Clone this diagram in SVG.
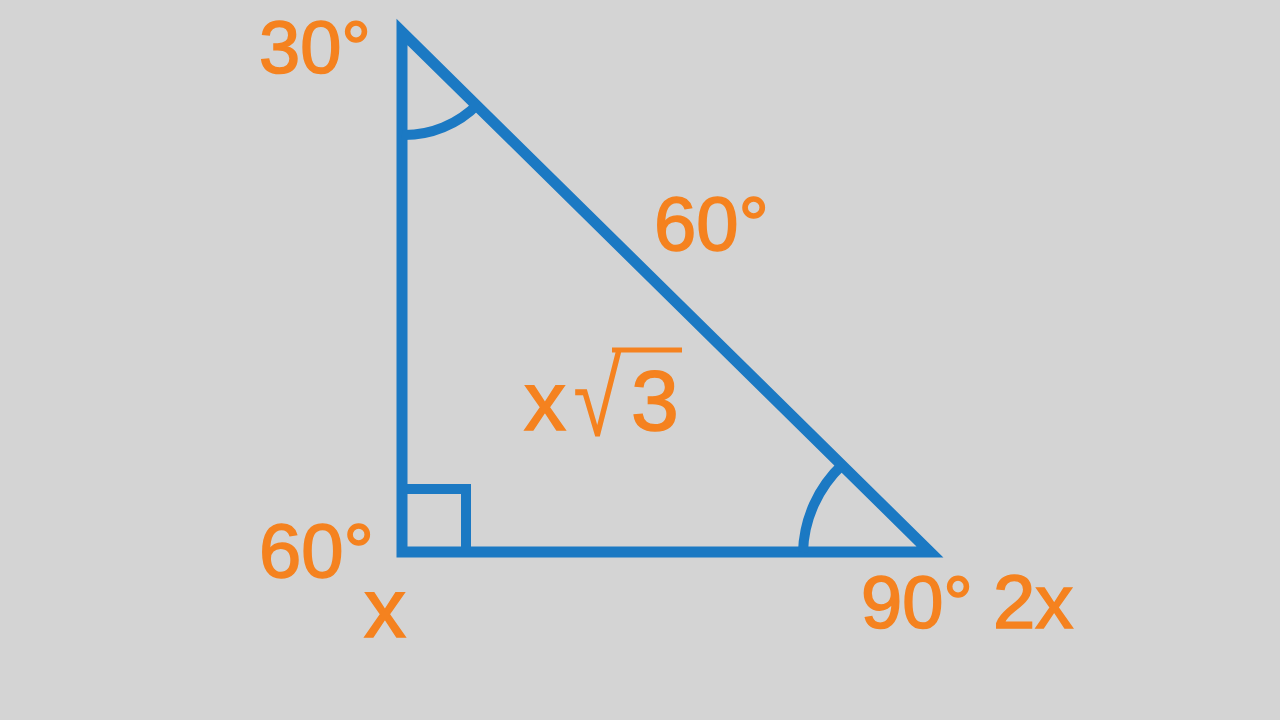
<svg xmlns="http://www.w3.org/2000/svg" width="1280" height="720" viewBox="0 0 1280 720">
<style>
.edge{fill:none;stroke:#1b79c3;stroke-width:11;stroke-linejoin:miter}
.mark{fill:none;stroke:#1b79c3;stroke-width:10}
.lbl{font-family:"Liberation Sans",Arial,sans-serif;fill:#f5821f;stroke:#f5821f;stroke-width:1.6}
</style>
<rect width="1280" height="720" fill="#d4d4d4"/>
<g id="connectors">
<path class="edge" d="M402,32 L402,552 L930,552 Z"/>
</g>
<g id="angle-top">
<path class="mark" d="M402,135 A103,103 0 0 0 478,104"/>
<text class="lbl" x="259" y="73" font-size="74">30°</text>
</g>
<g id="angle-bottom-left">
<path class="mark" d="M402,489 H466 V552"/>
<text class="lbl" x="259" y="577" font-size="76">60°</text>
<text class="lbl" x="364" y="637" font-size="84">x</text>
</g>
<g id="angle-bottom-right">
<path class="mark" d="M803,552 A125,125 0 0 1 842,465"/>
<text class="lbl" x="861" y="628" font-size="74">90°</text>
<text class="lbl" x="993" y="628" font-size="76">2x</text>
</g>
<g id="hypotenuse-label">
<text class="lbl" x="654" y="250" font-size="76">60°</text>
</g>
<g id="side-label">
<text class="lbl" x="524" y="430" font-size="84">x</text>
<text class="lbl" style="stroke:none" transform="translate(573,436) scale(1.05,1.27)" font-size="84">√</text>
<line x1="612" y1="350" x2="682" y2="350" stroke="#f5821f" stroke-width="5"/>
<text class="lbl" x="631" y="430" font-size="86">3</text>
</g>
</svg>
